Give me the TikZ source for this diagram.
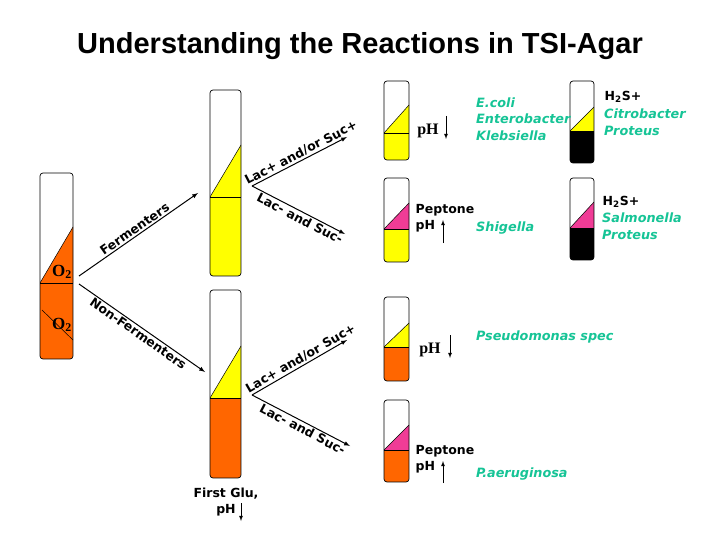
\documentclass[tikz,border=0pt]{standalone}
\usepackage{fontspec}
\setmainfont{Liberation Sans}
\newfontfamily\vfont{DejaVu Sans}
\newfontfamily\serfont{Liberation Serif}
\definecolor{tsiorange}{RGB}{255,102,0}
\definecolor{tsiyellow}{RGB}{255,255,0}
\definecolor{tsipink}{RGB}{240,60,150}
\definecolor{tsigreen}{RGB}{22,196,150}
\tikzset{
  lbl/.style={font=\vfont\bfseries\fontsize{12.5}{15.5}\selectfont, inner sep=1.5pt},
  germ/.style={font=\vfont\bfseries\itshape\fontsize{12.8}{16.5}\selectfont, text=tsigreen, align=left, anchor=west, inner sep=0pt},
  conn/.style={-latex, line width=1pt},
}
% tube: x1, x2, top, interface, slant top, bottom, slant colour, butt colour
\newcommand{\tsitube}[8]{%
  \begin{scope}
    \clip[rounded corners=3pt] (#1,#3) rectangle (#2,#6);
    \fill[#8] (#1,#4) rectangle (#2,#6);
    \fill[#7] (#1,#4) -- (#2,#5) -- (#2,#4) -- cycle;
    \draw[line width=0.5pt] (#1,#4) -- (#2,#5);
    \draw[line width=0.5pt] (#1,#4) -- (#2,#4);
  \end{scope}
  \draw[line width=0.7pt, rounded corners=3pt] (#1,#3) rectangle (#2,#6);
}

\begin{document}
\begin{tikzpicture}[x=1pt,y=-1pt]
\useasboundingbox (0,0) rectangle (720,540);

% Title
\node (title) at (360,46) {\fontsize{29}{33}\selectfont\bfseries Understanding the Reactions in TSI-Agar};

%Shape: tubes
\tsitube{40}{73}{173}{283}{227}{359}{tsiorange}{tsiorange}
\tsitube{210}{241}{90}{197}{145}{276}{tsiyellow}{tsiyellow}
\tsitube{210}{241}{290}{398}{346}{478}{tsiyellow}{tsiorange}
\tsitube{384}{409}{81}{133}{105}{160}{tsiyellow}{tsiyellow}
\tsitube{384}{409}{178}{229}{203}{262}{tsipink}{tsiyellow}
\tsitube{384}{409}{297}{347}{323}{381}{tsiyellow}{tsiorange}
\tsitube{384}{409}{400}{450}{425}{482}{tsipink}{tsiorange}
\tsitube{570}{594}{81}{131}{107}{163}{tsiyellow}{black}
\tsitube{570}{594}{178}{228}{202}{260}{tsipink}{black}

% O2 labels
\node (otop) at (62,272) {\serfont\bfseries\fontsize{17}{19}\selectfont O\textsubscript{2}};
\node (obot) at (62,325) {\serfont\bfseries\fontsize{17}{19}\selectfont O\textsubscript{2}};
\draw[line width=0.5pt] (42,310) -- (73,340);

% connectors
\coordinate (lt) at (79,276);
\coordinate (lb) at (79,284);
\coordinate (ferm) at (198,193);
\coordinate (nonferm) at (205,372);
\draw[conn] (lt) -- (ferm) node[lbl, midway, sloped, above] {Fermenters};
\draw[conn] (lb) -- (nonferm) node[lbl, midway, sloped, below] {Non-Fermenters};

\coordinate (mt) at (252,186);
\coordinate (mb) at (252,395);
\coordinate (mtup) at (347,137);
\coordinate (mtdn) at (345,234);
\coordinate (mbup) at (347,340);
\coordinate (mbdn) at (350,446);
\draw[conn] (mt) -- (mtup) node[lbl, pos=0.55, sloped, above] {Lac+ and/or Suc+};
\draw[conn] (mt) -- (mtdn) node[lbl, pos=0.55, sloped, below] {Lac- and Suc-};
\draw[conn] (mb) -- (mbup) node[lbl, pos=0.55, sloped, above] {Lac+ and/or Suc+};
\draw[conn] (mb) -- (mbdn) node[lbl, pos=0.55, sloped, below] {Lac- and Suc-};

% Text Node: pH
\node (ph1) at (428,131) {\serfont\bfseries\fontsize{16}{18}\selectfont pH};
\draw[-latex, line width=0.8pt] (446,116) -- (446,139);
\node (ph3) at (430,350) {\serfont\bfseries\fontsize{16}{18}\selectfont pH};
\draw[-latex, line width=0.8pt] (450,335) -- (450,358);
\node[lbl, align=left, anchor=west] (pep1) at (414,218) {Peptone\\pH};
\draw[-latex, line width=0.8pt] (443,243) -- (443,220);
\node[lbl, align=left, anchor=west] (pep2) at (414,459) {Peptone\\pH};
\draw[-latex, line width=0.8pt] (443,483) -- (443,461);
\node[lbl, align=center] (glu) at (226,502) {First Glu,\\pH\hspace{9pt}};
\draw[-latex, line width=0.8pt] (241,503) -- (241,521);

% Text Node: organisms
\node[germ] (ecoli) at (476,119) {E.coli\\Enterobacter\\Klebsiella};
\node[germ] (shig) at (476,228) {Shigella};
\node[germ] (pseudo) at (476,337) {Pseudomonas spec};
\node[germ] (paer) at (476,474) {P.aeruginosa};
\node[lbl, anchor=west] (hs1) at (603,97) {H\textsubscript{2}S+};
\node[germ] (citro) at (604,122) {Citrobacter\\Proteus};
\node[lbl, anchor=west] (hs2) at (601,202) {H\textsubscript{2}S+};
\node[germ] (salmo) at (602,226) {Salmonella\\Proteus};
\end{tikzpicture}
\end{document}
